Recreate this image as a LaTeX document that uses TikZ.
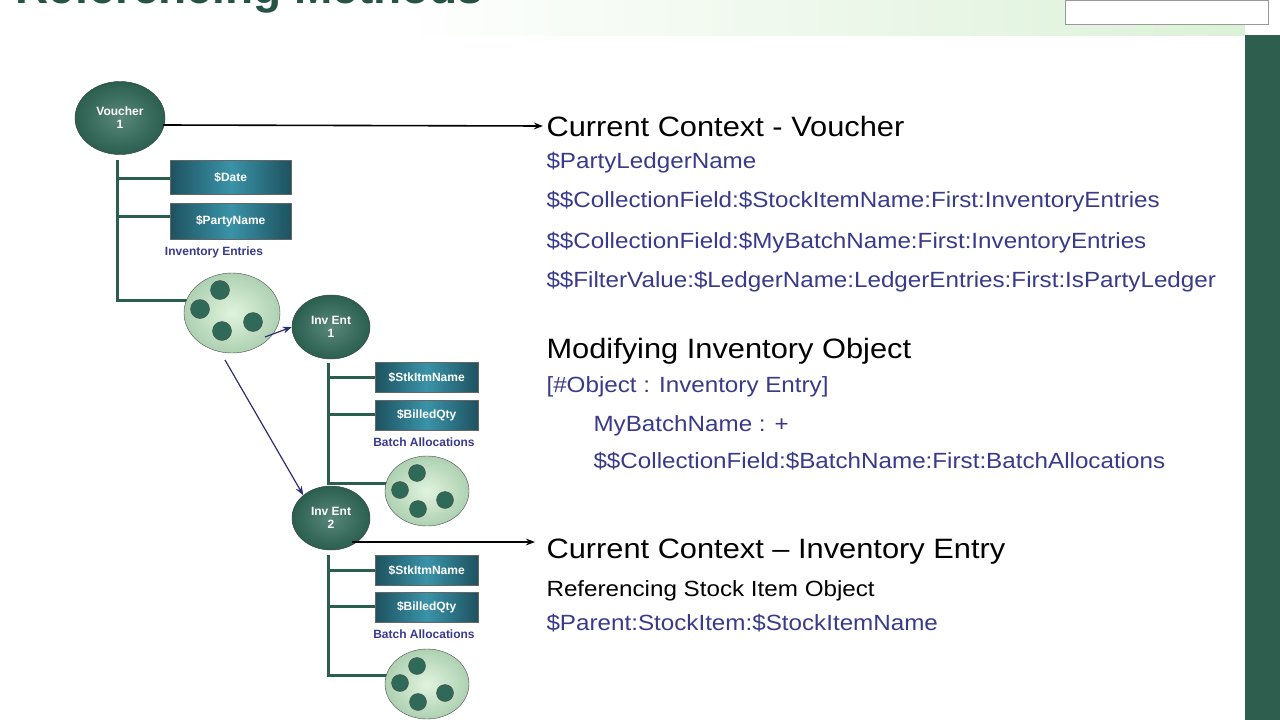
\documentclass[tikz,border=0pt]{standalone}
\usepackage{fontspec}
\setmainfont{Liberation Sans}
\newfontfamily\wide{Liberation Sans}[FakeStretch=1.1]
\usetikzlibrary{shapes.geometric,arrows.meta}
\definecolor{dg}{HTML}{2F6957}
\definecolor{lg}{HTML}{CDEBC8}
\definecolor{tl}{HTML}{1E5260}
\definecolor{tlm}{HTML}{3A93A8}
\definecolor{bl}{HTML}{3A3A8C}
\definecolor{bar}{HTML}{2E5E4E}
\tikzset{
 obj/.style={ellipse,draw=black!70,fill=dg,inner color=dg!80,outer color=dg!90!black,text=white,font=\bfseries\fontsize{12}{13}\selectfont,align=center,minimum width=78pt,minimum height=64pt,inner sep=0pt},
 coll/.style={ellipse,draw=black!70,inner color=lg!60,outer color=lg!80!dg,minimum width=#1,inner sep=0pt},
 dot/.style={circle,draw=black!70,fill=dg,minimum size=19pt,inner sep=0pt},
 fld/.style={draw=black!60,left color=tl,right color=tl,middle color=tlm,text=white,font=\bfseries\fontsize{12}{13}\selectfont,minimum height=30pt,inner sep=0pt},
 tree/.style={draw=dg!90!black,line width=3pt},
 lbl/.style={text=bl,font=\bfseries\fontsize{12}{13}\selectfont},
 big/.style={anchor=west,font=\wide\fontsize{28}{30}\selectfont},
 txt/.style={anchor=west,text=bl,font=\wide\fontsize{22}{24}\selectfont},
 blk/.style={anchor=west,font=\wide\fontsize{22}{24}\selectfont},
 arr/.style={-{Stealth[length=9pt]},line width=1.6pt},
 narr/.style={-{Stealth[length=9pt]},line width=1.2pt,draw=bl!80!black}
}
\begin{document}
\begin{tikzpicture}[x=1pt,y=-1pt]
\useasboundingbox (0,0) rectangle (1280,720);
\clip (0,0) rectangle (1280,720);
\fill[white] (0,0) rectangle (1280,720);
\shade[left color=white,right color=lg!70] (390,0) rectangle (1245,35);
\node[anchor=base west,text=dg!80!black,font=\bfseries\fontsize{46}{48}\selectfont] (title) at (12,4) {Referencing Methods};
\node[draw=black!40,fill=white,minimum width=203pt,minimum height=24pt,anchor=north west,inner sep=0pt] (wbox) at (1065,0) {};
\fill[bar] (1245,35) rectangle (1280,720);

% Voucher
\node[obj,minimum width=90pt,minimum height=73pt] (v) at (120,118) {Voucher\\1};
\node[big] (t1) at (543,126) {Current Context - Voucher};
\draw[arr] (163,125) -- (t1.west);
\draw[tree] (117,160) -- (117,300) -- (190,300);
\draw[tree] (117,178) -- (170,178);
\draw[tree] (117,216) -- (170,216);
\node[fld,minimum width=121pt,minimum height=34pt,anchor=north west] (d) at (170,160) {\$Date};
\node[fld,minimum width=121pt,minimum height=36pt,anchor=north west] (pn) at (170,203) {\$PartyName};
\node[lbl] (ie) at (214,252) {Inventory Entries};
\node[coll=96pt,minimum height=80pt] (c1) at (232,313) {};
\foreach \p in {(220,290),(200,309),(222,331),(253,322)} \node[dot] at \p {};

% Inv Ent 1
\node[obj] (i1) at (331,327) {Inv Ent\\1};
\draw[narr] (265,337) -- (i1.west);
\draw[tree] (328,363) -- (328,483) -- (392,483);
\draw[tree] (328,377) -- (375,377);
\draw[tree] (328,414) -- (375,414);
\node[fld,minimum width=103pt,anchor=north west] (s1) at (375,362) {\$StkItmName};
\node[fld,minimum width=103pt,anchor=north west] (b1) at (375,400) {\$BilledQty};
\node[lbl] (ba1) at (424,442) {Batch Allocations};
\node[coll=84pt,minimum height=70pt] (c2) at (427,491) {};
\foreach \p in {(417,473),(400,490),(418,509),(445,500)} \node[dot,minimum size=17pt] at \p {};

% Inv Ent 2
\node[obj] (i2) at (331,518) {Inv Ent\\2};
\draw[narr] (225,360) -- (i2.north west);
\node[big] (t3) at (543,552) {Current Context – Inventory Entry};
\draw[arr] (352,542) -- (535,542);
\draw[tree] (328,555) -- (328,675) -- (392,675);
\draw[tree] (328,570) -- (375,570);
\draw[tree] (328,606) -- (375,606);
\node[fld,minimum width=103pt,anchor=north west] (s2) at (375,555) {\$StkItmName};
\node[fld,minimum width=103pt,anchor=north west] (b2) at (375,592) {\$BilledQty};
\node[lbl] (ba2) at (424,634) {Batch Allocations};
\node[coll=84pt,minimum height=70pt] (c3) at (427,684) {};
\foreach \p in {(417,666),(400,683),(418,702),(445,693)} \node[dot,minimum size=17pt] at \p {};

% Right texts
\node[txt] at (543,163) {\$PartyLedgerName};
\node[txt] at (543,202) {\$\$CollectionField:\$StockItemName:First:InventoryEntries};
\node[txt] at (543,243) {\$\$CollectionField:\$MyBatchName:First:InventoryEntries};
\node[txt] at (543,282) {\$\$FilterValue:\$LedgerName:LedgerEntries:First:IsPartyLedger};
\node[big] at (543,351) {Modifying Inventory Object};
\node[txt] at (543,387) {[\#Object : Inventory Entry]};
\node[txt] at (590,426) {MyBatchName : +};
\node[txt] at (590,461) {\$\$CollectionField:\$BatchName:First:BatchAllocations};
\node[blk] at (543,591) {Referencing Stock Item Object};
\node[txt] at (543,623) {\$Parent:StockItem:\$StockItemName};
\end{tikzpicture}
\end{document}
